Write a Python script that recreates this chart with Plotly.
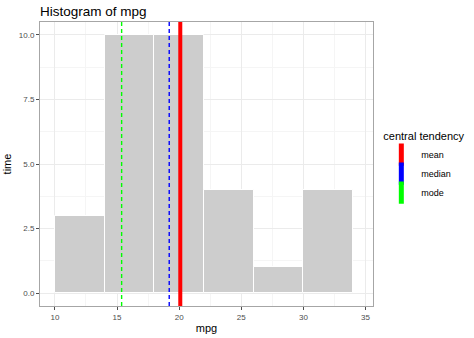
import plotly.graph_objects as go

# Histogram of mpg (binwidth 4) with central tendency markers
bin_left = [10, 14, 18, 22, 26, 30]
bin_width = 4
counts = [3, 10, 10, 4, 1, 4]

tendency_names = ["mean", "median", "mode"]
tendency_values = [20.09, 19.2, 15.37]
tendency_colors = ["#ff0000", "#0000ff", "#00ff00"]
tendency_widths = [4, 1.4, 1.4]
tendency_dash = ["solid", "dash", "dash"]

x_ticks = [10, 15, 20, 25, 30, 35]
y_ticks = [0, 2.5, 5, 7.5, 10]
y_tick_text = ["0.0", "2.5", "5.0", "7.5", "10.0"]

font = "Liberation Sans, Arial, sans-serif"
x_range = [8.8, 35.6]
y_range = [-0.5, 10.5]

fig = go.Figure()

fig.add_trace(go.Bar(
    x=[b + bin_width / 2 for b in bin_left],
    y=counts,
    width=bin_width,
    marker=dict(color="#cdcdcd", line=dict(color="white", width=1)),
    showlegend=False,
    hoverinfo="skip",
))

for name, val, col, w, d in zip(tendency_names, tendency_values, tendency_colors,
                                tendency_widths, tendency_dash):
    fig.add_trace(go.Scatter(
        x=[val, val], y=y_range, mode="lines",
        line=dict(color=col, width=w, dash=d if d == "solid" else "4px,3px"),
        showlegend=False, hoverinfo="skip",
    ))

# legend keys drawn as vertical bars
for name, col in zip(tendency_names, tendency_colors):
    fig.add_trace(go.Scatter(
        x=[None], y=[None], mode="markers", name=name,
        marker=dict(symbol="line-ns", size=17, color=col,
                    line=dict(color=col, width=5)),
    ))

axis_common = dict(
    showgrid=True, gridcolor="#ebebeb", gridwidth=1,
    zeroline=False,
    showline=True, linecolor="#a6a6a6", linewidth=1, mirror=True,
    ticks="outside", ticklen=3, tickcolor="#4d4d4d", tickwidth=1,
    tickfont=dict(family=font, size=8, color="#4d4d4d"),
    minor=dict(showgrid=True, gridcolor="#f5f5f5", gridwidth=0.5),
)

fig.update_layout(
    width=474, height=338,
    margin=dict(l=40, r=101, t=22, b=32, autoexpand=False),
    paper_bgcolor="white", plot_bgcolor="white",
    bargap=0,
    title=dict(text="Histogram of mpg", x=40 / 474, xanchor="left",
               y=1 - 11 / 338, yanchor="middle",
               font=dict(family=font, size=13.5, color="black")),
    xaxis=dict(range=x_range, tickvals=x_ticks,
               title=dict(text="mpg", font=dict(family=font, size=11, color="black"),
                          standoff=3),
               **axis_common),
    yaxis=dict(range=y_range, tickvals=y_ticks, ticktext=y_tick_text,
               title=dict(text="time", font=dict(family=font, size=11, color="black"),
                          standoff=4),
               **axis_common),
    legend=dict(
        title=dict(text="central tendency", font=dict(family=font, size=11, color="black")),
        font=dict(family=font, size=9, color="black"),
        x=1.025, xanchor="left", y=0.49, yanchor="middle",
        bgcolor="rgba(0,0,0,0)", itemwidth=30, tracegroupgap=0,
    ),
)
fig.update_xaxes(minor=dict(tickvals=[12.5, 17.5, 22.5, 27.5, 32.5]))
fig.update_yaxes(minor=dict(tickvals=[1.25, 3.75, 6.25, 8.75]))

fig.write_html("out.html")
